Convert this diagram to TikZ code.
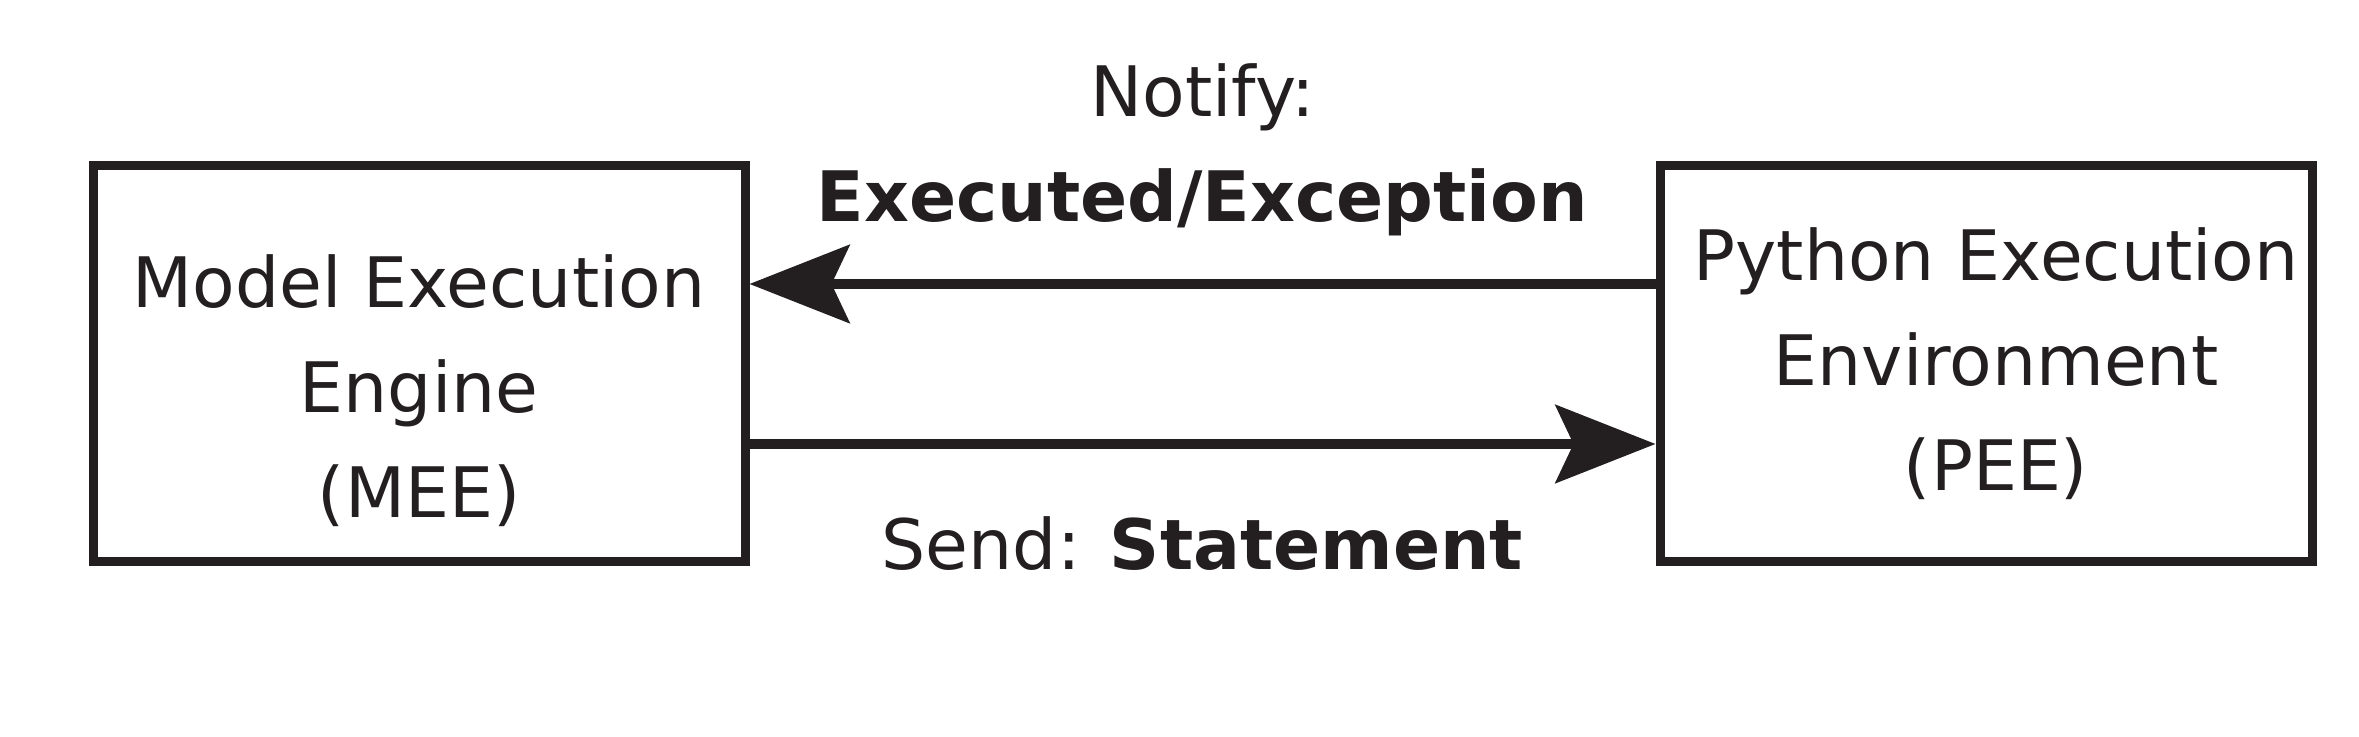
\documentclass[tikz,border=0pt]{standalone}
\usepackage{fontspec}
\setmainfont{DejaVu Sans}
\usepackage{tikz}
\usetikzlibrary{positioning}
\usetikzlibrary{arrows.meta}
\usetikzlibrary{calc}
\definecolor{ink}{RGB}{35,31,32}

\begin{document}
\begin{tikzpicture}[
                    color=ink,
                    every node/.style={font=\fontsize{19.8pt}{29.9pt}\selectfont},
                    box/.style={draw, line width=0.09cm, minimum width=6.52cm, minimum height=3.96cm},
                    boxtext/.style={align=center},
                    flow/.style={line width=0.094cm, -{Stealth[length=10mm, width=7.8mm, inset=1.8mm]}},
                    msg/.style={align=center, inner sep=0pt}
                ]
                \useasboundingbox (0,0) rectangle (23.59,7.37);
                % the two environments
                \node[box] (mee) at (4.19,3.73) {};
                \node[box, right=9.06cm of mee] (pee) {};
                \node[boxtext] (meetext) at ([yshift=-2.7mm]mee.center) {Model Execution\\Engine\\(MEE)};
                \node[boxtext] (peetext) at ([xshift=1mm]pee.center) {Python Execution\\Environment\\(PEE)};
                % messages
                \draw[flow] ([yshift=0.8cm]pee.west) -- node[msg, above=4.3mm]{Notify:\\\textbf{Executed/Exception}} ([yshift=0.8cm]mee.east);
                \draw[flow] ([yshift=-0.8cm]mee.east) -- node[msg, below=6.8mm]{Send: \textbf{Statement}} ([yshift=-0.8cm]pee.west);
            \end{tikzpicture}
\end{document}
